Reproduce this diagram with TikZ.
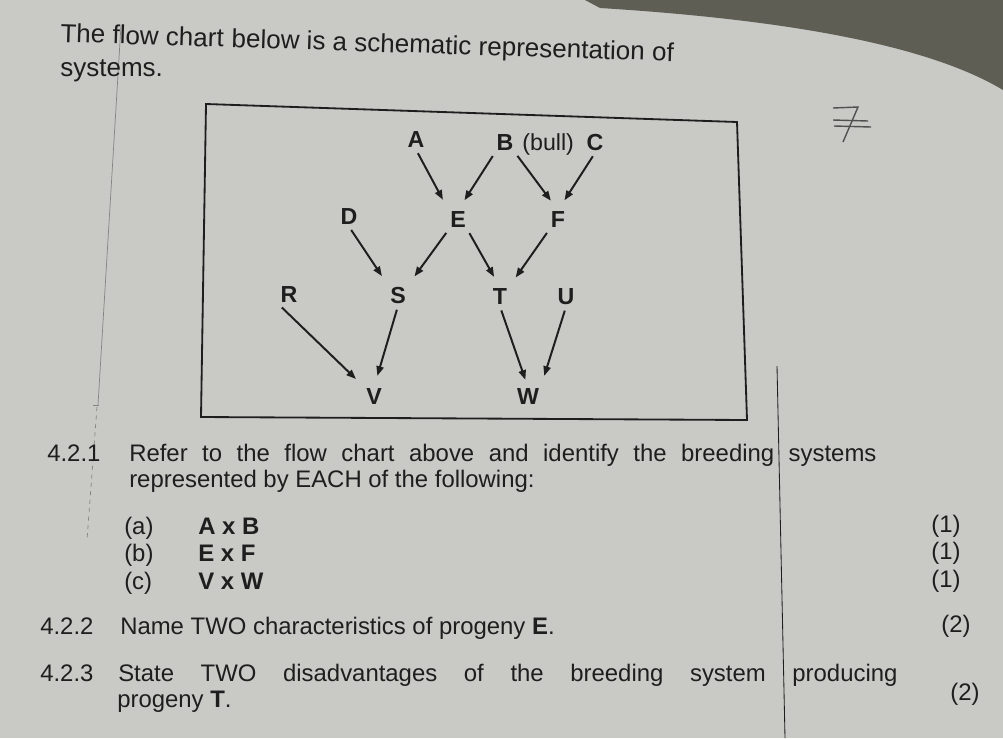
\documentclass[tikz,border=0pt]{standalone}
\usepackage{fontspec}
\setmainfont{Liberation Sans}
\usetikzlibrary{arrows.meta}
\definecolor{paper}{HTML}{C9C9C6}
\definecolor{ink}{HTML}{1E1E1E}
\definecolor{edgedark}{HTML}{5E5E55}
\definecolor{pencil}{HTML}{505050}

\begin{document}
\begin{tikzpicture}[x=0.025cm, y=-0.025cm,
    lbl/.style={inner sep=1pt, text=ink, font=\fontsize{16.5}{19}\selectfont\bfseries},
    arr/.style={draw=ink, line width=1.4pt, -{Triangle[length=2.4mm,width=1.8mm]}, shorten <=1mm, shorten >=3mm},
    qtxt/.style={anchor=base west, inner sep=0pt, text=ink, font=\fontsize{17}{20}\selectfont},
    toptxt/.style={anchor=base west, inner sep=0pt, text=ink, font=\fontsize{18.5}{21}\selectfont},
    scanline/.style={draw=pencil!70, line width=0.5pt}]

        % Paper and page edge
        \fill[paper] (0,0) rectangle (1003,738);
        \fill[edgedark] (585,0) -- (600,8) .. controls (760,18) and (920,40) .. (1003,90) -- (1003,0) -- cycle;
        \useasboundingbox (0,0) rectangle (1003,738);

        % Lines showing through the page
        \draw[scanline] (121,25) -- (98,405);
        \draw[scanline] (93,405) -- (99,405);
        \draw[scanline, dashed] (97,407) -- (87,540);
        \draw[draw=ink, line width=0.6pt] (777,366) -- (785,738);

        % Pencil mark
        \draw[pencil, line width=1pt] (833,108) -- (858,107) -- (843,142);
        \draw[pencil, line width=1pt] (833,120) -- (868,121);
        \draw[pencil, line width=1pt] (834,126) -- (871,127);

        % Intro text
        \node[toptxt, rotate=-1.8] (intro1) at (60,42) {The flow chart};
        \node[toptxt, rotate=-1.8] (intro1b) at (intro1.base east) {\hspace{0.278em}below is a schematic representation of};
        \node[toptxt] (intro2) at (60,76) {systems.};

        % Draw the chart frame
        \draw[ink, line width=1.3pt] (206,104) -- (737,122) -- (747,420) -- (201,417) -- cycle;

        % Draw the animals
        \node[lbl] (A) at (416,140) {A};
        \node[lbl] (B) at (505,143) {B};
        \node[lbl, anchor=base west, font=\fontsize{16.5}{19}\selectfont] (bull) at ([xshift=4pt]B.base east) {(bull)};
        \node[lbl] (C) at (595,143) {C};
        \node[lbl] (D) at (349,217) {D};
        \node[lbl] (E) at (458,220) {E};
        \node[lbl] (F) at (558,220) {F};
        \node[lbl] (R) at (289,295) {R};
        \node[lbl] (S) at (398,296) {S};
        \node[lbl] (T) at (500,297) {T};
        \node[lbl] (U) at (566,297) {U};
        \node[lbl] (V) at (374,397) {V};
        \node[lbl] (W) at (528,397) {W};

        % Draw the crosses
        \draw[arr] (A.south) -- (E.north west);
        \draw[arr] (B.south west) -- (E.north);
        \draw[arr] (B.south east) -- (F.north);
        \draw[arr] (C.south) -- (F.north);
        \draw[arr] (D.south) -- (S.north west);
        \draw[arr] (E.south west) -- (S.north east);
        \draw[arr] (E.south east) -- (T.north);
        \draw[arr] (F.south west) -- (T.north east);
        \draw[arr] (R.south west) -- (V.north west);
        \draw[arr] (S.south) -- (V.north);
        \draw[arr, shorten >=2mm] (T.south) -- (W.north);
        \draw[arr] (U.south) -- (W.north east);

        % Question 4.2.1
        \node[qtxt] (q1num) at (47,461) {4.2.1};
        \node[qtxt] (q1a) at (129,461) {\makebox[18.675cm][s]{Refer to the flow chart above and identify the breeding systems}};
        \node[qtxt] (q1b) at (129,487) {represented by EACH of the following:};

        \node[qtxt] (pa) at (124,534) {(a)};
        \node[qtxt] (xa) at (198,534) {\textbf{A x B}};
        \node[qtxt] (ma) at (931,532) {(1)};
        \node[qtxt] (pb) at (124,561) {(b)};
        \node[qtxt] (xb) at (198,561) {\textbf{E x F}};
        \node[qtxt] (mb) at (931,559) {(1)};
        \node[qtxt] (pc) at (124,589) {(c)};
        \node[qtxt] (xc) at (198,589) {\textbf{V x W}};
        \node[qtxt] (mc) at (931,587) {(1)};

        % Question 4.2.2
        \node[qtxt] (q2num) at (40,634) {4.2.2};
        \node[qtxt] (q2) at (120,634) {Name TWO characteristics of progeny \textbf{E}.};
        \node[qtxt] (m2) at (941,632) {(2)};

        % Question 4.2.3
        \node[qtxt] (q3num) at (40,681) {4.2.3};
        \node[qtxt] (q3a) at (118,681) {\makebox[19.475cm][s]{State TWO disadvantages of the breeding system producing}};
        \node[qtxt] (q3b) at (117,707) {progeny \textbf{T}.};
        \node[qtxt] (m3) at (950,700) {(2)};

\end{tikzpicture}
\end{document}
